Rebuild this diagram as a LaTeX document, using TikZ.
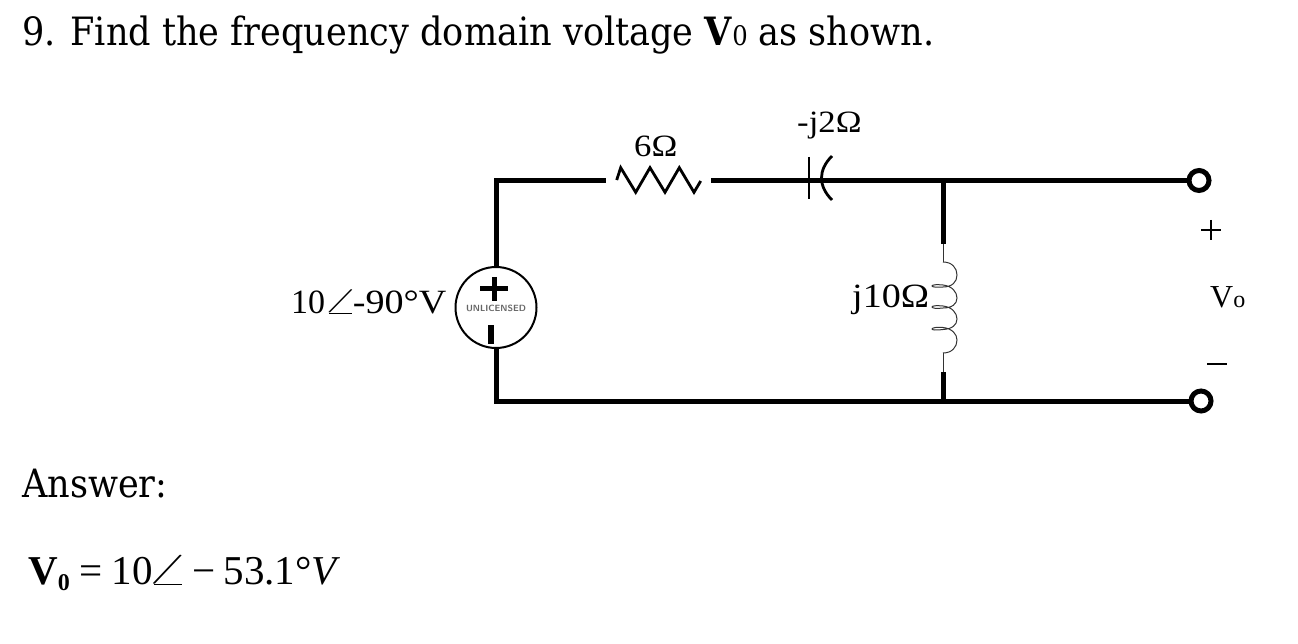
\documentclass[tikz,border=0pt]{standalone}
\usepackage{fontspec}
\usepackage{graphicx}
\setmainfont{Liberation Serif}
\newfontfamily\headfont{DejaVu Serif Condensed}
\newfontfamily\widefont[FakeStretch=1.12]{Liberation Serif}
\newcommand{\ang}[2]{\scalebox{#1}[#2]{$\angle$}}
\newcommand{\fs}[1]{\fontsize{#1}{#1}\selectfont}
\begin{document}
\begin{tikzpicture}[x=1pt,y=-1pt,
  wire/.style={line width=5pt},
  thinwire/.style={line width=1pt,black!80},
  symbolline/.style={line width=2.8pt},
  lab/.style={inner sep=0pt,anchor=base west},
  term/.style={circle,draw,line width=5pt,minimum size=20pt,inner sep=0pt,fill=white}]
\useasboundingbox (0,0) rectangle (1298,644);
% headings
\node[lab] (title) at (22,46) {\headfont\fs{39}9. Find the frequency domain voltage \textbf{V}{\fs{27}0} as shown.};
\node[lab] (answer) at (22,497) {\headfont\fs{39}Answer:};
\node[lab] (result) at (28,584) {\fs{41}\textbf{V}\raisebox{-6pt}{\fs{24}\textbf{0}}\hspace{10pt}=\hspace{9pt}10\hspace{-7pt}\ang{2.3}{1.25}\hspace{2pt}\symbol{"2212}\hspace{8pt}53.1°\textit{V}};
% anchor points
\coordinate (tl) at (497,180.5);
\coordinate (rl) at (606,180.5);
\coordinate (rr) at (711,180.5);
\coordinate (j) at (943,180.5);
\coordinate (lt) at (943,244);
\coordinate (lta) at (943,262);
\coordinate (lb) at (943,372);
\coordinate (lba) at (943,353);
\coordinate (bj) at (943,401);
\coordinate (bl) at (497,401);
% source
\node[circle,draw,line width=2pt,minimum size=81pt,inner sep=0pt] (src) at (496,307.5) {};
\node[inner sep=0pt,text=black!60] (unl) at (496,308) {\fontsize{9}{9}\selectfont\sffamily\bfseries UNLICENSED};
\draw[line width=5pt] (480,289) -- (508,289) (494,277) -- (494,301);
\draw[line width=6pt] (491,325) -- (491,344);
% terminals
\node[term] (t1) at (1199,180.5) {};
\node[term] (t2) at (1201,401) {};
% wires
\draw[wire] (src.north) -- (tl -| src.north) -- (rl);
\draw[wire] (rr) -- (t1);
\draw[wire] (src.south) -- (bl -| src.south) -- (t2);
\draw[wire] (j) -- (lt);
\draw[wire] (lb) -- (bj);
% resistor
\draw[symbolline,line join=miter] (616.7,180) -- (620.7,167.7) -- (635.7,192.3) -- (650,167.7) -- (665,192.3) -- (679.3,167.7) -- (694,192.3) -- (700.7,181);
% capacitor
\draw[symbolline] (809,157) -- (809,199);
\draw[symbolline] (832,156) .. controls (818,170) and (818,186) .. (832,200);
% inductor
\draw[thinwire] (lt) -- (lta);
\draw[thinwire] (lb) -- (lba);
\draw[thinwire] (lta) .. controls (952,262) and (957,268) .. (957,275)
  .. controls (957,282) and (952,287) .. (943,287)
  .. controls (936,287.5) and (932,287) .. (932,286)
  .. controls (932,284.5) and (938,284.5) .. (943,285)
  .. controls (952,286) and (957,292) .. (957,298)
  .. controls (957,304) and (952,308) .. (943,308)
  .. controls (936,309) and (932,308) .. (932,307)
  .. controls (932,305.5) and (938,305.5) .. (943,306)
  .. controls (952,307) and (957,313) .. (957,319)
  .. controls (957,325) and (952,329) .. (943,329.5)
  .. controls (936,330.5) and (932,330) .. (932,329)
  .. controls (932,327.5) and (938,327) .. (943,327.5)
  .. controls (952,328.5) and (957,334) .. (957,340)
  .. controls (957,347) and (952,353) .. (lba);
% labels
\node[lab] (l6) at (634,157) {\widefont\fs{31}6Ω};
\node[lab] (lj2) at (797,133) {\widefont\fs{31}-j2Ω};
\node[lab] (lv) at (291,313) {\fs{34}10\hspace{-3pt}\ang{1.9}{1}\hspace{-6pt}{\widefont-90°V}};
\node[lab] (lj10) at (852,308) {\widefont\fs{34}j10Ω};
\node[lab] (vo) at (1210,308) {\fs{32}V{\fs{24}o}};
\draw[line width=1.3pt] (1201,230) -- (1221,230) (1211,220) -- (1211,240);
\draw[line width=1.6pt] (1207,364) -- (1227,364);
\end{tikzpicture}
\end{document}
